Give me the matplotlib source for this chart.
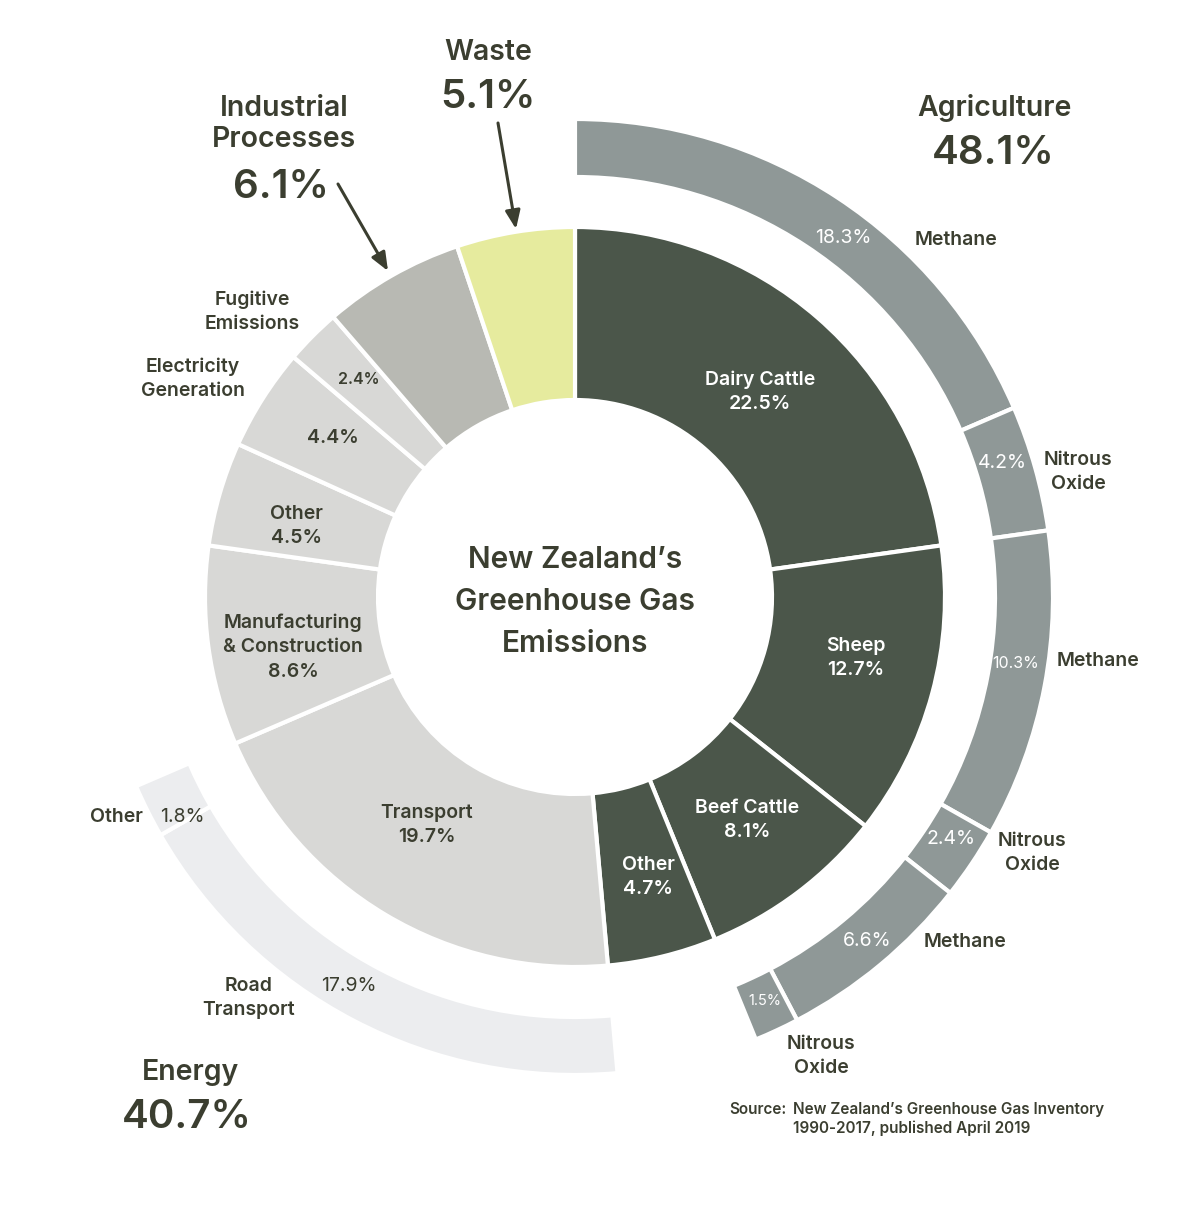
import matplotlib
matplotlib.use("Agg")
import matplotlib.pyplot as plt

# ---------------- data ----------------
inner_labels = ["Dairy Cattle", "Sheep", "Beef Cattle", "Other", "Transport",
                "Manufacturing\n& Construction", "Other", "Electricity\nGeneration",
                "Fugitive\nEmissions", "Industrial Processes", "Waste"]
inner_values = [22.5, 12.7, 8.1, 4.7, 19.7, 8.6, 4.5, 4.4, 2.4, 6.1, 5.1]
inner_groups = ["agri", "agri", "agri", "agri", "energy", "energy", "energy",
                "energy", "energy", "industrial", "waste"]

agri_gas_labels = ["Methane", "Nitrous\nOxide", "Methane", "Nitrous\nOxide",
                   "Methane", "Nitrous\nOxide"]
agri_gas_values = [18.3, 4.2, 10.3, 2.4, 6.6, 1.5]

energy_sub_labels = ["Road\nTransport", "Other"]
energy_sub_values = [17.9, 1.8]

sector_names = ["Agriculture", "Energy", "Industrial\nProcesses", "Waste"]
sector_values = [48.1, 40.7, 6.1, 5.1]

# ---------------- style ----------------
W, H = 1200, 1206
FONT = ["Inter", "DejaVu Sans"]
DARK = "#3b3e30"
C_AGRI = "#4b564a"
C_AGRI_OUT = "#8f9897"
C_ENERGY = "#d8d8d6"
C_ENERGY_OUT = "#ecedef"
C_IND = "#b8b9b3"
C_WASTE = "#e6eb9e"
group_colors = {"agri": C_AGRI, "energy": C_ENERGY, "industrial": C_IND, "waste": C_WASTE}

plt.rcParams["font.family"] = FONT

fig = plt.figure(figsize=(W / 100, H / 100), dpi=100)
ax = fig.add_axes([0, 0, 1, 1])

CX, CY = 575, H - 597
R_IN, HOLE = 370, 197
R_OUT, W_OUT = 478, 58

# inner ring
ax.pie(inner_values, radius=R_IN, center=(CX, CY), startangle=90, counterclock=False,
       colors=[group_colors[g] for g in inner_groups],
       wedgeprops=dict(width=R_IN - HOLE, edgecolor="white", linewidth=3),
       normalize=True, frame=True)

# outer ring: agriculture gases, gap for agri "Other", transport split, remainder invisible
agri_other = inner_values[3]
rest = sum(inner_values) - sum(agri_gas_values) - agri_other - sum(energy_sub_values)
outer_vals = agri_gas_values + [agri_other] + energy_sub_values + [rest]
outer_cols = ([C_AGRI_OUT] * len(agri_gas_values) + ["none"]
              + [C_ENERGY_OUT] * len(energy_sub_values) + ["none"])
wedges, _ = ax.pie(outer_vals, radius=R_OUT, center=(CX, CY), startangle=90, counterclock=False,
                   colors=outer_cols,
                   wedgeprops=dict(width=W_OUT, edgecolor="white", linewidth=3),
                   normalize=True, frame=True)
for w, c in zip(wedges, outer_cols):
    if c == "none":
        w.set_edgecolor("none")

ax.set_xlim(0, W)
ax.set_ylim(0, H)
ax.set_aspect("equal")
ax.axis("off")


def T(px, py, s, size=15, color=DARK, weight="semibold", ha="center", va="center", ls=1.45):
    ax.text(px, H - py, s, fontsize=size, color=color, fontweight=weight,
            ha=ha, va=va, linespacing=ls, family=FONT)


def pct(v):
    return f"{v}%"

# inner labels
inner_pos = [(760, 392), (856, 658), (747, 820), (648, 877), (427, 825),
             (293, 647), (296, 526), (333, 438), (359, 380), None, None]
for lab, v, g, p in zip(inner_labels, inner_values, inner_groups, inner_pos):
    if p is None:
        continue
    col = "white" if g == "agri" else DARK
    if lab.startswith("Electricity") or lab.startswith("Fugitive"):
        T(p[0], p[1], pct(v), size=11.5 if v < 3 else 14, color=col)
    else:
        T(p[0], p[1], f"{lab}\n{pct(v)}", size=14, color=col)

# outside labels for small energy wedges
T(193, 379, inner_labels[7], size=14)
T(252, 312, inner_labels[8], size=14)

# agriculture gases
gas_pct_pos = [(843, 238), (1002, 463), (1016, 663), (951, 839), (867, 941), (765, 1001)]
gas_lab_pos = [(956, 240), (1078, 472), (1098, 661), (1032, 853), (965, 942), (821, 1056)]
for lab, v, pp, lp in zip(agri_gas_labels, agri_gas_values, gas_pct_pos, gas_lab_pos):
    sz = 14
    if v == 10.3:
        sz = 11.5
    if v == 1.5:
        sz = 10.5
    T(pp[0], pp[1], pct(v), size=sz, color="white", weight="normal")
    T(lp[0], lp[1], lab, size=14)

# energy transport split
T(249, 998, energy_sub_labels[0], size=14)
T(349, 986, pct(energy_sub_values[0]), size=14, weight="normal")
T(116, 817, energy_sub_labels[1], size=14)
T(182, 817, pct(energy_sub_values[1]), size=14, weight="normal")

# sector headings
T(994, 108, sector_names[0], size=20.5)
T(993, 153, pct(sector_values[0]), size=29)
T(190, 1073, sector_names[1], size=20.5)
T(187, 1117, pct(sector_values[1]), size=29)
T(284, 124, sector_names[2], size=20.5, ls=1.2)
T(281, 187, pct(sector_values[2]), size=29)
T(488, 52, sector_names[3], size=20.5)
T(488, 97, pct(sector_values[3]), size=29)

# arrows
arrow_kw = dict(arrowstyle="-|>,head_length=1.1,head_width=0.45", color=DARK, lw=2.2,
                shrinkA=0, shrinkB=0)
ax.annotate("", xy=(388, H - 271), xytext=(338, H - 184), arrowprops=arrow_kw)
ax.annotate("", xy=(516, H - 229), xytext=(498, H - 123), arrowprops=arrow_kw)

# centre title
T(575, 602, "New Zealand\u2019s\nGreenhouse Gas\nEmissions", size=21.5, ls=1.62)

# source
ax.text(729, H - 1110, "Source:", fontsize=11, color=DARK, fontweight="semibold",
        ha="left", va="center", family=FONT)
ax.text(793, H - 1119, "New Zealand\u2019s Greenhouse Gas Inventory\n1990-2017, published April 2019",
        fontsize=11, color=DARK, fontweight="semibold", ha="left", va="center",
        linespacing=1.3, family=FONT)

fig.savefig("out.png", dpi=100, facecolor="white")
